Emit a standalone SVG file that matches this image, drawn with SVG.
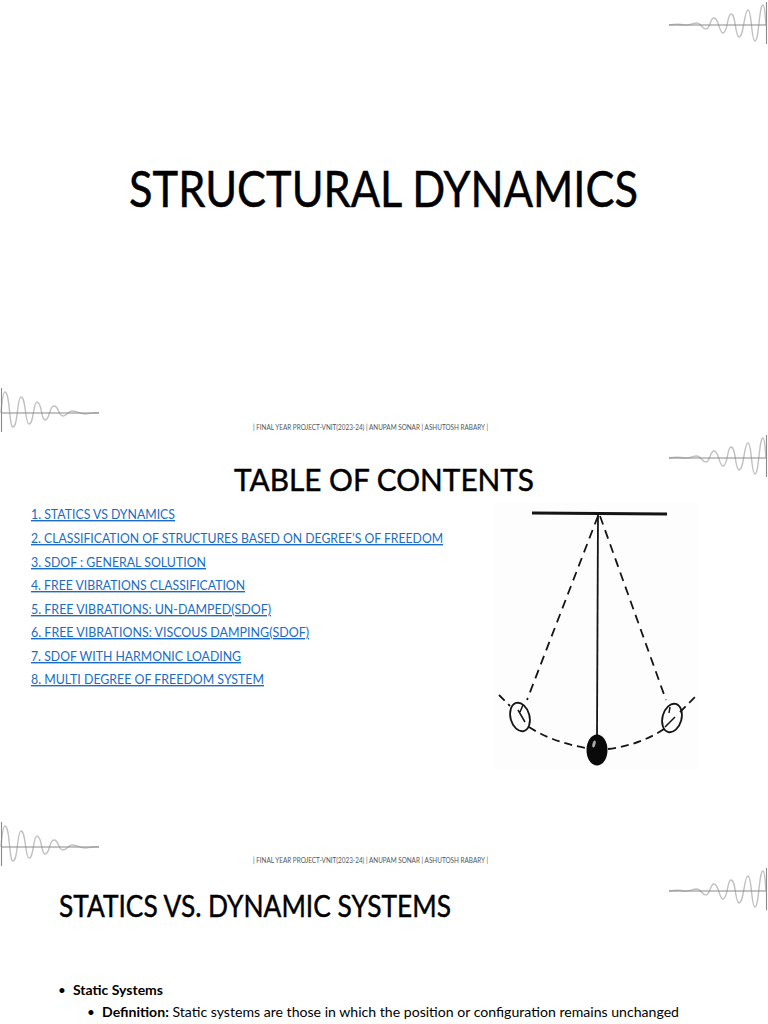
<svg xmlns="http://www.w3.org/2000/svg" width="768" height="1024" viewBox="0 0 768 1024">
<style>
text{font-family:"Lato","Carlito","Open Sans",sans-serif;fill:#000}
.title{font-size:50px;stroke:#000;stroke-width:.5px}
.h2{font-size:30px;stroke:#000;stroke-width:.45px}
.link{font-size:14px;fill:#1a6cc4;text-decoration:underline}
.foot{font-size:6.8px;fill:#555}
.body{font-size:13.5px}
.b{font-weight:700}
.ax{stroke:#8a8a8a;stroke-width:1.1;fill:none}
.wv{stroke:#c0c0c0;stroke-width:1.400;fill:none}
.ink{stroke:#151515;fill:none}
</style>
<defs>
<g id="waveR">
<path class="wv" d="M669 25C676 24 680 24 684 25C689 26 692 23 697 23C701 23 702 29 706 29C710 29 710 18 714 18C719 18 719 33 723 33C728 33 727 14 731 14C736 14 735 37 739 37C744 37 744 10 748 10C752 10 751 41 755 41C759 41 759 5 763 5C765 5 765 15 766 25"/>
<path class="ax" d="M669 25H767M766.500 2V44"/>
</g>
<g id="waveL">
<path class="wv" d="M1 413C2 400 3 392 5 392C10 392 9 427 13 427C18 427 17 397 21 397C26 397 25 424 29 424C34 424 33 402 37 402C42 402 41 420 45 420C50 420 49 406 54 406C59 406 58 416 63 416C67 416 68 411 72 411C78 411 80 414 85 414C90 414 92 412 99 413"/>
<path class="ax" d="M2 413H99M1.500 388V432"/>
</g>
</defs>

<rect width="768" height="1024" fill="#fff"/>

<g id="page1">
<use href="#waveR"/>
<use href="#waveL"/>
<text class="title" x="129" y="207" textLength="509" lengthAdjust="spacingAndGlyphs">STRUCTURAL DYNAMICS</text>
<text class="foot" x="253" y="430" textLength="235" lengthAdjust="spacingAndGlyphs">| FINAL YEAR PROJECT-VNIT(2023-24) | ANUPAM SONAR | ASHUTOSH RABARY |</text>
</g>

<g id="page2">
<use href="#waveR" y="433"/>
<use href="#waveL" y="434"/>
<text class="h2" x="234" y="491" textLength="300" lengthAdjust="spacingAndGlyphs">TABLE OF CONTENTS</text>
<g id="toc">
<text class="link" x="31" y="519" textLength="144" lengthAdjust="spacingAndGlyphs">1. STATICS VS DYNAMICS</text>
<text class="link" x="31" y="543" textLength="412" lengthAdjust="spacingAndGlyphs">2. CLASSIFICATION OF STRUCTURES BASED ON DEGREE’S OF FREEDOM</text>
<text class="link" x="31" y="567" textLength="175" lengthAdjust="spacingAndGlyphs">3. SDOF : GENERAL SOLUTION</text>
<text class="link" x="31" y="590" textLength="214" lengthAdjust="spacingAndGlyphs">4. FREE VIBRATIONS CLASSIFICATION</text>
<text class="link" x="31" y="614" textLength="240" lengthAdjust="spacingAndGlyphs">5. FREE VIBRATIONS: UN-DAMPED(SDOF)</text>
<text class="link" x="31" y="637" textLength="278" lengthAdjust="spacingAndGlyphs">6. FREE VIBRATIONS: VISCOUS DAMPING(SDOF)</text>
<text class="link" x="31" y="661" textLength="210" lengthAdjust="spacingAndGlyphs">7. SDOF WITH HARMONIC LOADING</text>
<text class="link" x="31" y="684" textLength="233" lengthAdjust="spacingAndGlyphs">8. MULTI DEGREE OF FREEDOM SYSTEM</text>
</g>
<g id="pendulum">
<rect x="494" y="503" width="204" height="268" fill="#fdfdfd"/>
<path class="ink" stroke-width="3" d="M532 513L667 514"/>
<path class="ink" stroke-width="1.800" d="M598 513L597 737"/>
<path class="ink" stroke-width="1.800" stroke-dasharray="9 6" d="M598 516L527 700M600 516L666 700"/>
<path class="ink" stroke-width="1.800" stroke-dasharray="8 5" d="M499 695L510 706M529 727Q552 742 586 748M608 749Q640 745 664 729M680 712L696 696"/>
<ellipse class="ink" stroke-width="1.800" cx="520" cy="717" rx="9.500" ry="14.500" transform="rotate(-15 520 717)"/>
<ellipse class="ink" stroke-width="1.800" cx="672" cy="718" rx="9.500" ry="14.500" transform="rotate(15 672 718)"/>
<path class="ink" stroke-width="1.500" d="M518 710L525 722M523 705L520 712M670 707L669 713M665 727L675 717"/>
<ellipse cx="597" cy="750" rx="10.500" ry="15.500" fill="#0a0a0a"/>
<ellipse cx="594" cy="744" rx="1.500" ry="3.500" fill="#aaa" transform="rotate(15 594 744)"/>
</g>
<text class="foot" x="253" y="863" textLength="235" lengthAdjust="spacingAndGlyphs">| FINAL YEAR PROJECT-VNIT(2023-24) | ANUPAM SONAR | ASHUTOSH RABARY |</text>
</g>

<g id="page3">
<use href="#waveR" y="866"/>
<text class="h2" x="59" y="917" textLength="392" lengthAdjust="spacingAndGlyphs">STATICS VS. DYNAMIC SYSTEMS</text>
<text class="body" x="58" y="995">•</text>
<text class="body b" x="73" y="995" textLength="90" lengthAdjust="spacingAndGlyphs">Static Systems</text>
<text class="body" x="87" y="1017">•</text>
<text class="body" x="102" y="1017" textLength="577" lengthAdjust="spacingAndGlyphs"><tspan class="b">Definition:</tspan> Static systems are those in which the position or configuration remains unchanged</text>
</g>
</svg>
